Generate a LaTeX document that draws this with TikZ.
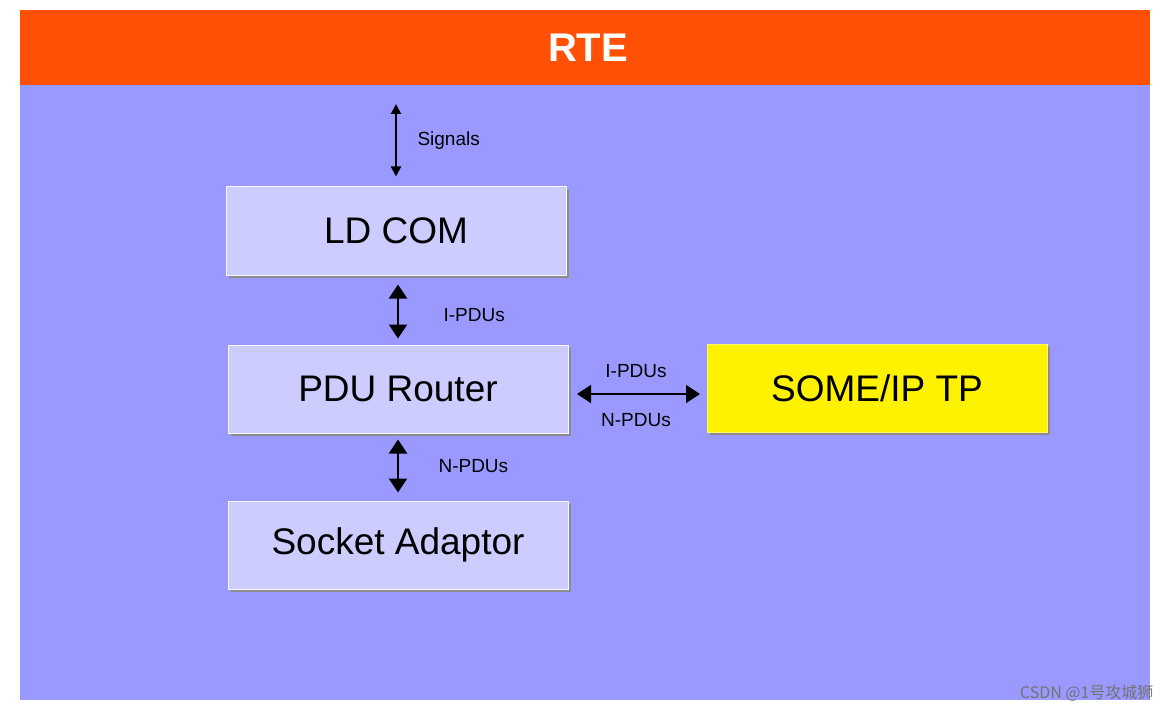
\documentclass[tikz,border=0pt]{standalone}
\usepackage{fontspec}
\setmainfont{Liberation Sans}
\newfontfamily\cjk{Noto Sans CJK SC}
\usetikzlibrary{arrows.meta,shadows}
\definecolor{bgblue}{HTML}{9999FF}
\definecolor{boxblue}{HTML}{CCCCFF}
\definecolor{rteor}{HTML}{FF5005}
\begin{document}
\begin{tikzpicture}[x=1pt,y=-1pt,
  box/.style={draw=white!85!boxblue,line width=1pt,fill=boxblue,minimum width=340pt,minimum height=88pt,
    font=\fontsize{37}{40}\selectfont,drop shadow={shadow xshift=3pt,shadow yshift=-3pt,fill=black!45,opacity=1}},
  lbl/.style={font=\fontsize{19}{22}\selectfont},
  arr/.style={{Triangle[width=18pt,length=14pt]}-{Triangle[width=18pt,length=14pt]},line width=2pt}]
\useasboundingbox (0,0) rectangle (1170,714);
\fill[white] (0,0) rectangle (1170,714);
\fill[bgblue] (20,85) rectangle (1150,700);
\fill[rteor] (20,10) rectangle (1150,85);
\node[white,font=\bfseries\fontsize{40}{44}\selectfont] (rte) at (588,48) {RTE};
\node[box] (ld) at (396,231) {LD COM};
\node[box] (pdu) at (398,389) {PDU Router};
\node[box] (sa) at (398,545) {Socket Adaptor};
\node[box,fill=yellow,draw=yellow!60!white] (some) at (877,388) {SOME/IP TP};
\coordinate (sigtop) at (396,104);
\draw[arr,{Triangle[width=10pt,length=10pt]}-{Triangle[width=10pt,length=10pt]}] (sigtop) -- ([yshift=10pt]ld.north);
\node[lbl,anchor=west] at (414,141) {Signals};
\draw[arr] ([xshift=2pt,yshift=-9pt]ld.south) -- ([yshift=6pt]pdu.north);
\node[lbl,anchor=west] at (440,315) {I-PDUs};
\draw[arr] ([yshift=-6pt]pdu.south) -- ([yshift=8pt]sa.north);
\node[lbl,anchor=west] at (435,466) {N-PDUs};
\coordinate (hl) at (577,394);
\coordinate (hr) at (700,394);
\draw[arr,line width=1.5pt] (hl) -- (hr);
\node[lbl] at (636,371) {I-PDUs};
\node[lbl] at (636,420) {N-PDUs};
\node[black!55,font=\cjk\fontsize{16}{18}\selectfont,anchor=east] at (1157,693) {CSDN @1号攻城狮};
\end{tikzpicture}
\end{document}
